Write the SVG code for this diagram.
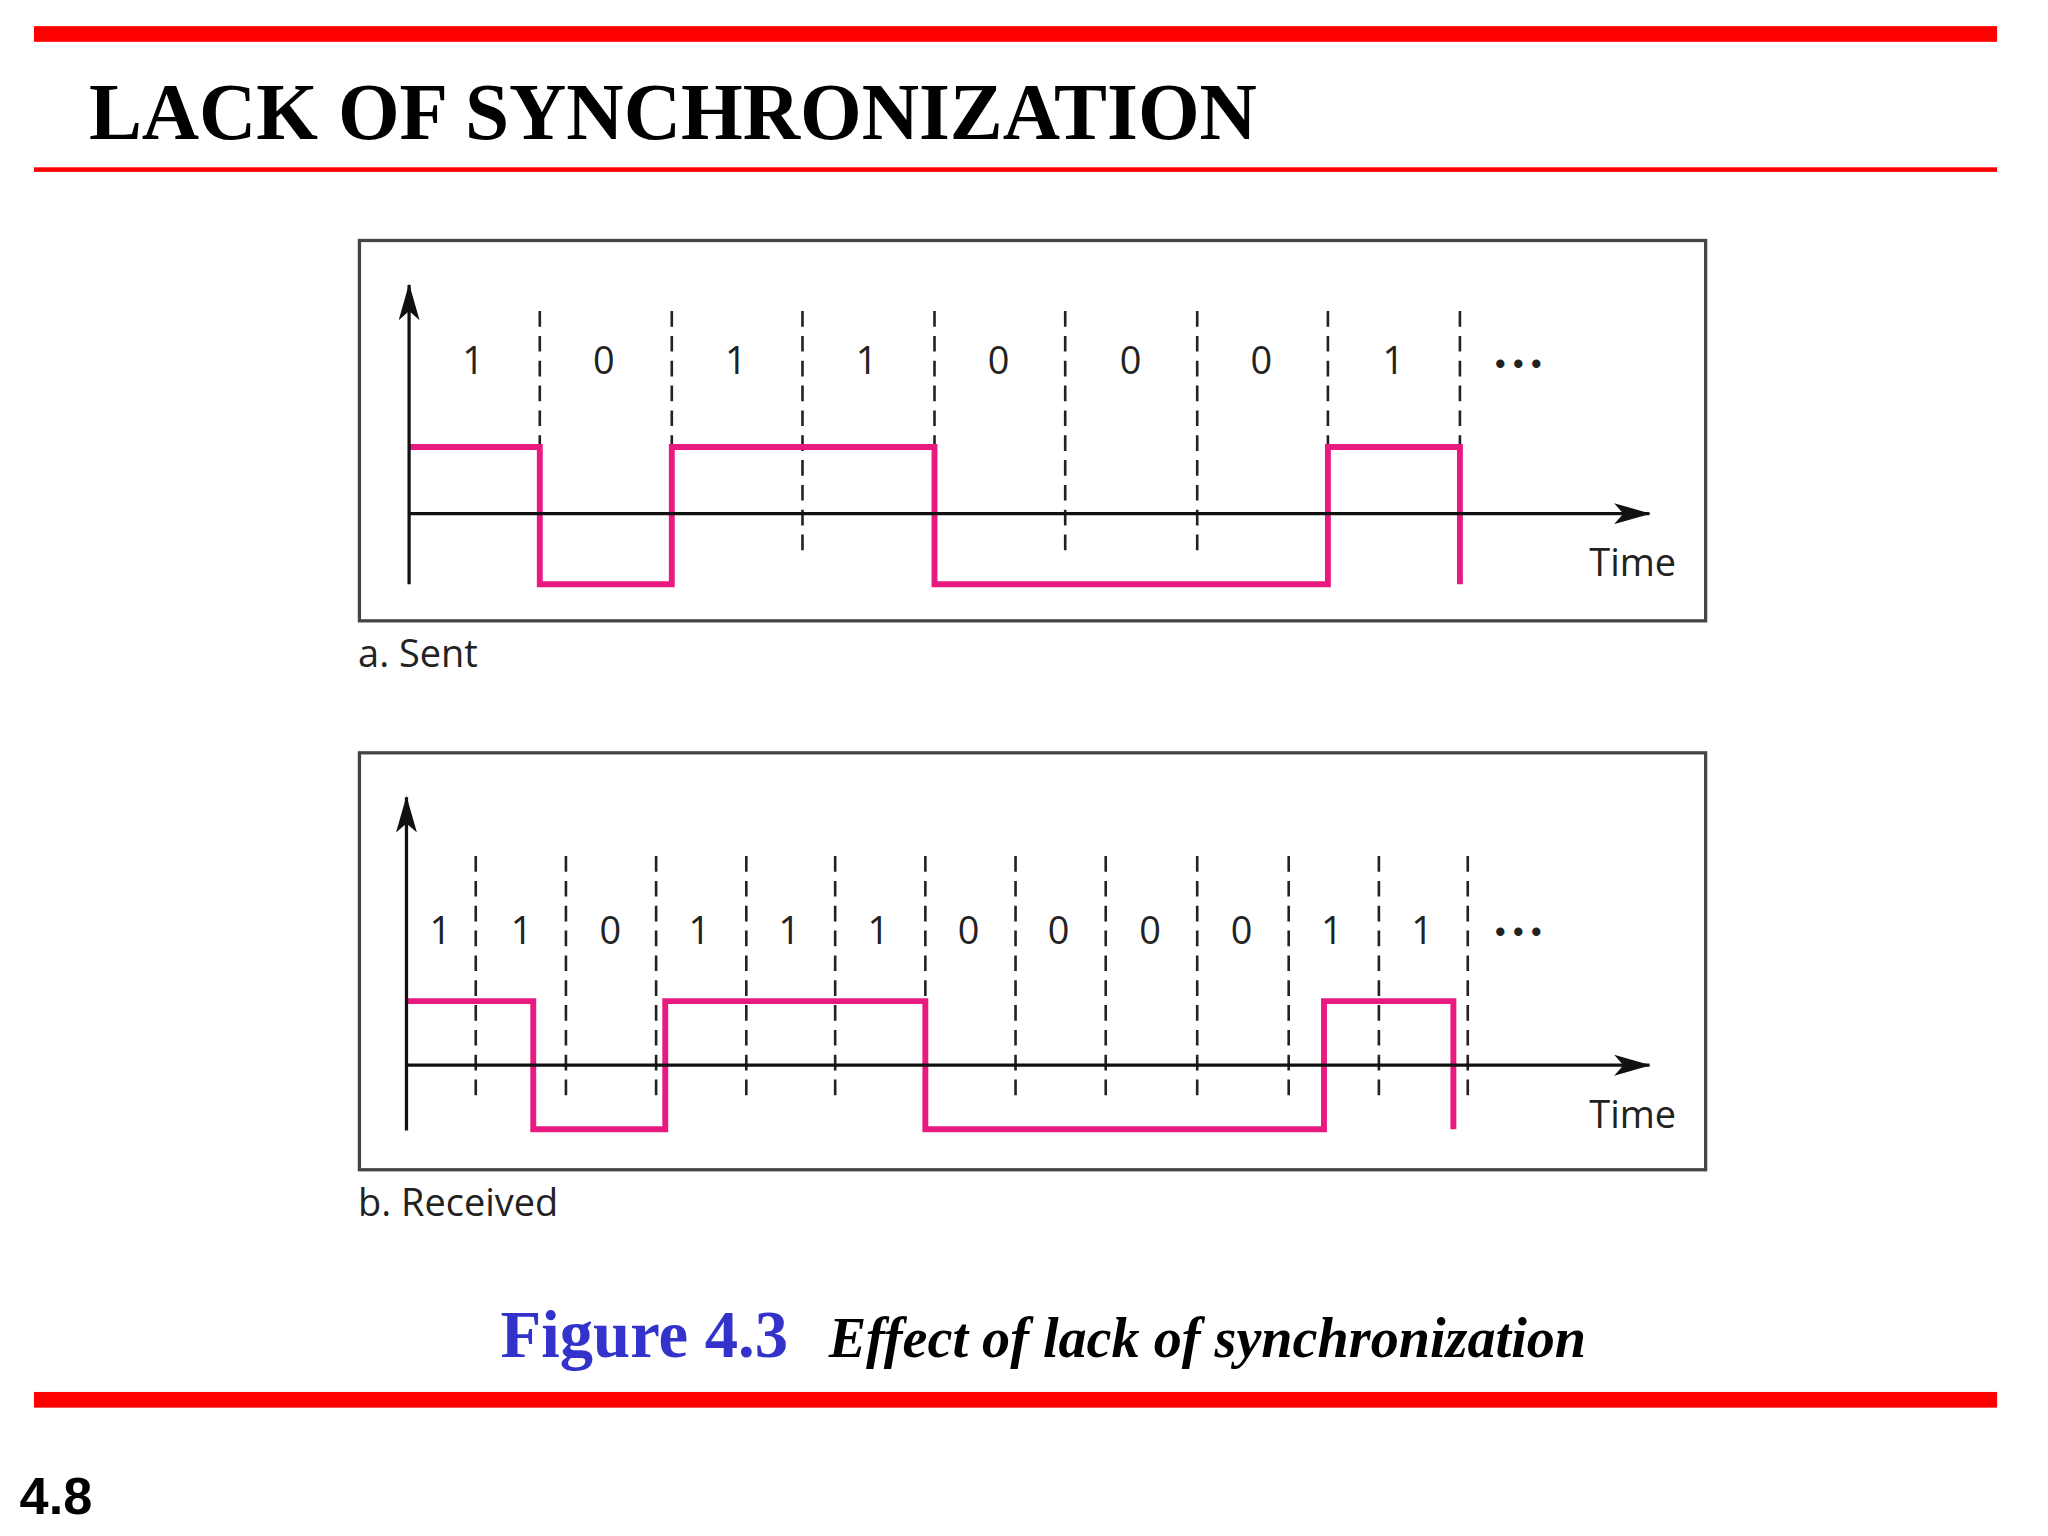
<svg xmlns="http://www.w3.org/2000/svg" width="2048" height="1536" viewBox="0 0 2048 1536">
<defs>
<marker id="ah2" viewBox="0 0 28 16" refX="27" refY="8" markerWidth="28" markerHeight="16" markerUnits="userSpaceOnUse" orient="auto"><path d="M0,0 L28,8 L0,16 L7,8 Z" fill="#111"/></marker>
<style>
.box{fill:none;stroke:#444;stroke-width:2.5}
.ax{stroke:#111;stroke-width:2.5;fill:none;marker-end:url(#ah2)}
.dash{stroke:#222;stroke-width:2;stroke-dasharray:12,7}
.sig{fill:none;stroke:#e8197f;stroke-width:4.5}
.bit{font-family:"Open Sans","Liberation Sans",sans-serif;font-size:29px;fill:#222;text-anchor:middle}
.dots{font-family:"Liberation Sans",sans-serif;font-size:22px;fill:#222;font-weight:bold}
.lbl{font-family:"Open Sans","Liberation Sans",sans-serif;font-size:29px;fill:#222}
</style>
</defs>
<rect width="2048" height="1536" fill="#fff"/>
<g transform="scale(1.307)">
<g id="header">
<rect x="26" y="20" width="1502" height="12" fill="#ff0000"/>
<text x="68" y="106" font-family="Liberation Serif,serif" font-weight="bold" font-size="60.7" fill="#000">LACK OF SYNCHRONIZATION</text>
<rect x="26" y="128" width="1502" height="3.5" fill="#ff0000"/>
</g>
<g id="panel-a">
<rect class="box" x="275" y="184" width="1030" height="291"/>
<text class="lbl" x="274" y="510">a. Sent</text>
<g id="dashes-a">
<line class="dash" x1="413" y1="238" x2="413" y2="425"/><line class="dash" x1="514" y1="238" x2="514" y2="425"/><line class="dash" x1="614" y1="238" x2="614" y2="425"/><line class="dash" x1="715" y1="238" x2="715" y2="425"/><line class="dash" x1="815" y1="238" x2="815" y2="425"/><line class="dash" x1="916" y1="238" x2="916" y2="425"/><line class="dash" x1="1016" y1="238" x2="1016" y2="425"/><line class="dash" x1="1117" y1="238" x2="1117" y2="425"/>
</g>
<g id="bits-a">
<text class="bit" x="362" y="286">1</text><text class="bit" x="462" y="286">0</text><text class="bit" x="563" y="286">1</text><text class="bit" x="663" y="286">1</text><text class="bit" x="764" y="286">0</text><text class="bit" x="865" y="286">0</text><text class="bit" x="965" y="286">0</text><text class="bit" x="1066" y="286">1</text>
<text class="dots" x="1144" y="286">• • •</text>
</g>
<path class="sig" d="M313,342 H413 V447 H514 V342 H715 V447 H1016 V342 H1117 V447"/>
<g id="axes-a">
<line class="ax" x1="313" y1="447" x2="313" y2="218"/>
<line class="ax" x1="313" y1="393" x2="1262" y2="393"/>
</g>
<text class="lbl" x="1216" y="441">Time</text>
</g>
<g id="panel-b">
<rect class="box" x="275" y="576" width="1030" height="319"/>
<text class="lbl" x="274" y="930">b. Received</text>
<g id="dashes-b">
<line class="dash" x1="364" y1="655" x2="364" y2="843"/><line class="dash" x1="433" y1="655" x2="433" y2="843"/><line class="dash" x1="502" y1="655" x2="502" y2="843"/><line class="dash" x1="571" y1="655" x2="571" y2="843"/><line class="dash" x1="639" y1="655" x2="639" y2="843"/><line class="dash" x1="708" y1="655" x2="708" y2="843"/><line class="dash" x1="777" y1="655" x2="777" y2="843"/><line class="dash" x1="846" y1="655" x2="846" y2="843"/><line class="dash" x1="916" y1="655" x2="916" y2="843"/><line class="dash" x1="986" y1="655" x2="986" y2="843"/><line class="dash" x1="1055" y1="655" x2="1055" y2="843"/><line class="dash" x1="1123" y1="655" x2="1123" y2="843"/>
</g>
<g id="bits-b">
<text class="bit" x="337" y="722">1</text><text class="bit" x="399" y="722">1</text><text class="bit" x="467" y="722">0</text><text class="bit" x="535" y="722">1</text><text class="bit" x="604" y="722">1</text><text class="bit" x="672" y="722">1</text><text class="bit" x="741" y="722">0</text><text class="bit" x="810" y="722">0</text><text class="bit" x="880" y="722">0</text><text class="bit" x="950" y="722">0</text><text class="bit" x="1019" y="722">1</text><text class="bit" x="1088" y="722">1</text>
<text class="dots" x="1144" y="721">• • •</text>
</g>
<path class="sig" d="M311,766 H408 V864 H509 V766 H708 V864 H1013 V766 H1112 V864"/>
<g id="axes-b">
<line class="ax" x1="311" y1="865" x2="311" y2="610"/>
<line class="ax" x1="311" y1="815" x2="1262" y2="815"/>
</g>
<text class="lbl" x="1216" y="863">Time</text>
</g>
<g id="caption">
<text x="383" y="1038" font-family="Liberation Serif,serif" font-weight="bold" font-size="51" fill="#3333cc">Figure 4.3</text>
<text x="634" y="1038" font-family="Liberation Serif,serif" font-weight="bold" font-style="italic" font-size="43" fill="#000">Effect of lack of synchronization</text>
</g>
<rect x="26" y="1065" width="1502" height="12" fill="#ff0000"/>
<text x="15" y="1158" font-family="Liberation Sans,Arial,sans-serif" font-weight="bold" font-size="40" fill="#000">4.8</text>
</g>
</svg>
